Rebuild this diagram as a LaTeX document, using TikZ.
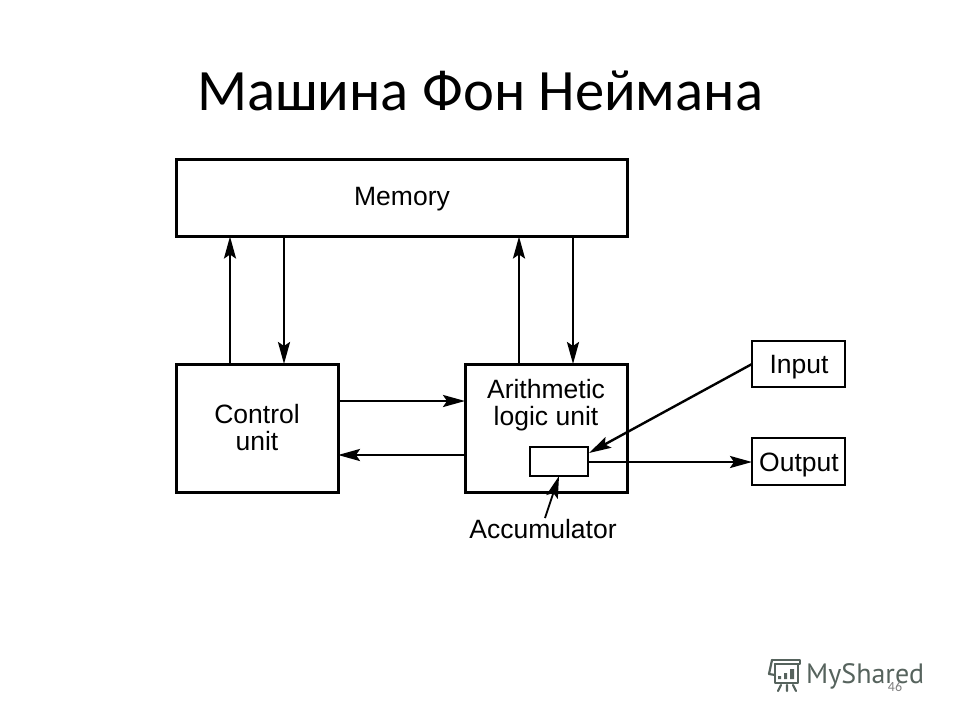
\documentclass[tikz,border=0pt]{standalone}
\usepackage{fontspec}
\setmainfont{Liberation Sans}
\newfontfamily\titlefont{Carlito}
\newfontfamily\logofont{PT Sans}
\usetikzlibrary{arrows.meta}
\definecolor{logogray}{HTML}{56635D}
\tikzset{
  x=1pt,y=-1pt,
  blockbox/.style={draw=black,line width=3pt,fill=white,inner sep=0pt,outer sep=0pt,align=center,font=\fontsize{26.5}{27}\selectfont},
  flow/.style={line width=2.4pt,draw=black,-{Stealth[length=22pt,width=12pt,inset=4pt]}},
  lbl/.style={inner sep=0pt,outer sep=0pt,font=\fontsize{26.5}{27}\selectfont,align=center},
}
\begin{document}
\begin{tikzpicture}
\useasboundingbox (0,0) rectangle (960,720);
\node[inner sep=0pt,font=\titlefont\fontsize{58.6}{60}\selectfont] (title) at (480,91) {Машина Фон Неймана};
% logo
\begin{scope}[draw=logogray,line width=2.2pt,line cap=round,line join=round]
\draw (772,660) -- (800,660) -- (800,664) -- (775,664);
\draw (772,660) -- (769,674) -- (775,675);
\draw (775,664) rectangle (798,683);
\draw (781,685) -- (778,691) (793,685) -- (796,691) (787,685) -- (787,691);
\fill[logogray] (778,676) rectangle (781,679) (784,673) rectangle (787,679) (790,669) rectangle (794,679);
\end{scope}
\node[inner sep=0pt,text=logogray,font=\logofont\fontsize{28}{30}\selectfont,anchor=base west] (logo) at (806,683) {MyShared};
\node[inner sep=0pt,text=gray,font=\titlefont\fontsize{14}{16}\selectfont] (page) at (895,687) {46};
% blocks
\node[blockbox,minimum width=451pt,minimum height=77pt] (mem) at (402,198) {};
\node[lbl] (memt) at (402,199) {Memory};
\node[blockbox,minimum width=162pt,minimum height=128pt] (ctrl) at (257,428) {Control\\unit};
\node[blockbox,minimum width=162pt,minimum height=128pt] (alu) at (546,428) {};
\node[lbl] (alut) at (546,405.5) {Arithmetic\\logic unit};
\node[blockbox,line width=2.6pt,minimum width=58pt,minimum height=29pt] (acc) at (559,461.5) {};
\node[blockbox,line width=2.6pt,minimum width=93pt,minimum height=46pt] (in) at (798.5,364) {};
\node[lbl] (int) at (799,367) {Input};
\node[blockbox,line width=2.6pt,minimum width=93pt,minimum height=47pt] (out) at (798.5,461.5) {};
\node[lbl] (outt) at (799,465) {Output};
\node[lbl] (acct) at (543,529) {Accumulator};
% guides
\coordinate (a) at (230,0);
\coordinate (b) at (284,0);
\coordinate (c) at (519,0);
\coordinate (d) at (573,0);
\coordinate (e) at (0,401);
\coordinate (f) at (0,455);
\coordinate (g) at (545,518);
\coordinate (h) at (589,453);
\coordinate (i) at (0,462);
% connectors
\draw[flow] (ctrl.north -| a) -- (mem.south -| a);
\draw[flow] (mem.south -| b) -- (ctrl.north -| b);
\draw[flow] (alu.north -| c) -- (mem.south -| c);
\draw[flow] (mem.south -| d) -- (alu.north -| d);
\draw[flow] (ctrl.east |- e) -- (alu.west |- e);
\draw[flow] (alu.west |- f) -- (ctrl.east |- f);
\draw[flow] (in.west) -- (h);
\draw[flow] (acc.east |- i) -- (out.west |- i);
\draw[flow,line width=1.8pt] (g) -- (acc.south);
\end{tikzpicture}
\end{document}
